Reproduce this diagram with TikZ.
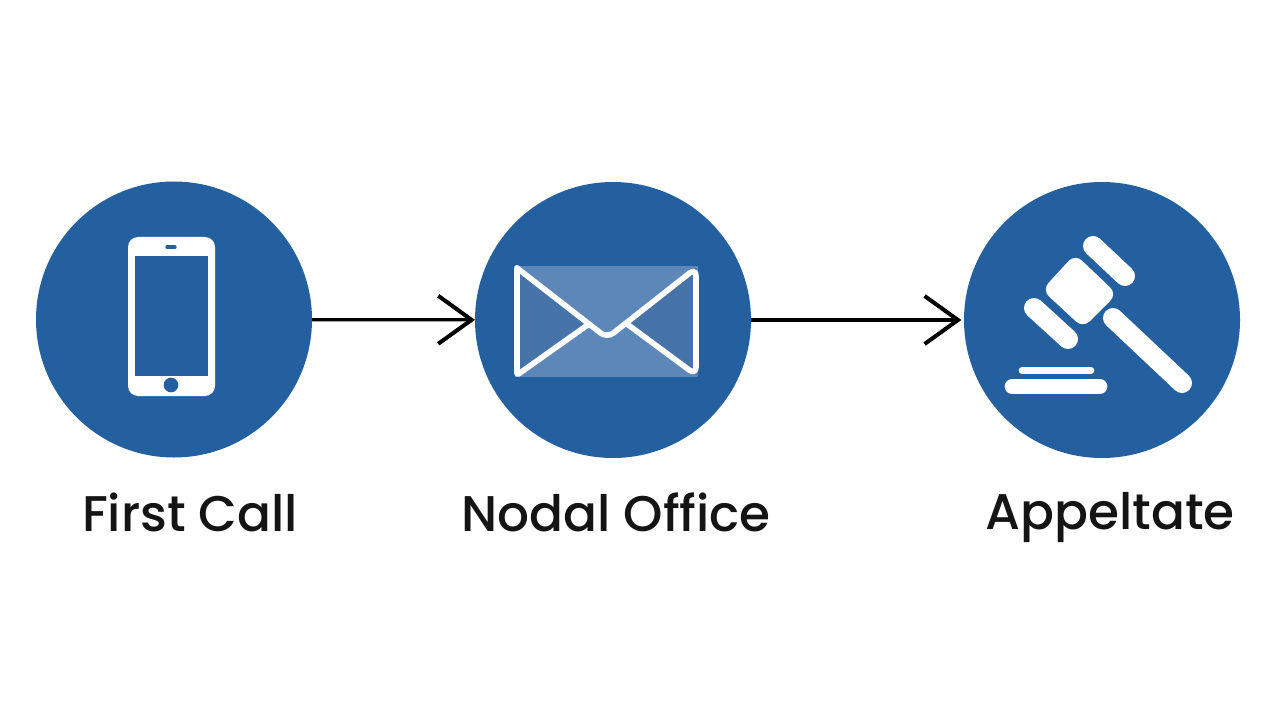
\documentclass[tikz,border=0pt]{standalone}
\usepackage{fontspec}
\setmainfont{Poppins Medium}
\usetikzlibrary{arrows.meta}
\definecolor{discblue}{HTML}{24609F}
\definecolor{flaplight}{HTML}{5C87B8}
\definecolor{flapdark}{HTML}{4674A9}
\begin{document}
\begin{tikzpicture}
[
    x=0.75pt, y=-0.75pt,
    disc/.style={circle, fill=discblue, minimum size=207pt, inner sep=0pt, outer sep=0pt},
    caption/.style={font=\fontsize{37.6}{46}\selectfont, text=black!92, inner sep=0pt, anchor=base},
    flow/.style={line width=2.4pt, -{Straight Barb[length=25pt, width=36pt, line width=3pt]}},
    iconline/.style={white, line cap=round, line join=round},
]
\useasboundingbox (0,0) rectangle (1280,720);

\node[disc] (firstcall) at (174,319.5) {};
\node[disc] (nodal) at (613,320) {};
\node[disc] (appellate) at (1102,320) {};

\node[caption] (firstcalltext) at (190,531) {First Call};
\node[caption] (nodaltext) at (616,531) {Nodal Office};
\node[caption] (appellatetext) at (1110,529) {Appeltate};

\draw[flow] (firstcall) -- (nodal);
\draw[flow, shorten >=2pt] (nodal) -- (appellate);

% phone
\fill[white, rounded corners=7.5pt] (128,237) rectangle (215,396);
\fill[discblue] (135,256) rectangle (208,376);
\draw[discblue, line width=2.5pt, line cap=round] (167,247) -- (175,247);
\fill[discblue] (171,385) circle (5.5pt);

% envelope
\fill[flaplight] (515,266) rectangle (698,377);
\fill[flapdark] (517,268) -- (589,324) -- (517,375) -- cycle;
\fill[flapdark] (696,268) -- (627,324) -- (696,375) -- cycle;
\draw[iconline, line width=4.2pt, rounded corners=6pt] (517,268) -- (607,338) -- (696,268) -- (696,375) -- (627,324);
\draw[iconline, line width=4.2pt, rounded corners=1pt] (589,324) -- (517,375) -- (517,268);

% gavel
\fill[white, rounded corners=7pt] (1075,254) -- (1117,294) -- (1083,328) -- (1042,290) -- cycle;
\draw[iconline, line width=15pt] (1113,318) -- (1182,383);
\draw[iconline, line width=15pt] (1093,246) -- (1125,276);
\draw[iconline, line width=15pt] (1034,308) -- (1068,339);
\draw[iconline, line width=11pt] (1012,386.5) -- (1100,386.5);
\draw[iconline, line width=5pt] (1022,370.5) -- (1091,370.5);
\end{tikzpicture}
\end{document}
